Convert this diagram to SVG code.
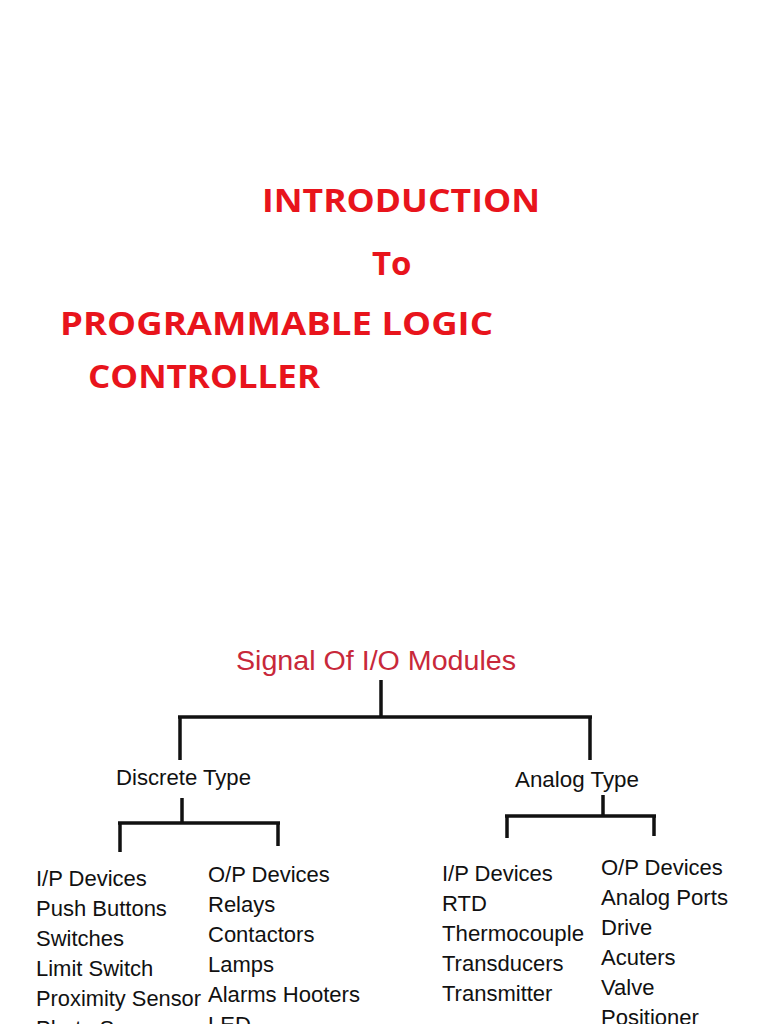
<svg xmlns="http://www.w3.org/2000/svg" width="768" height="1024" viewBox="0 0 768 1024">
<style>
.t{font-family:"Open Sans","Liberation Sans",sans-serif;font-weight:bold;font-size:33px;fill:#e8141c}
.h{font-family:"Liberation Sans",Arial,sans-serif;font-size:27px;fill:#c8283a}
.n{font-family:"Liberation Sans",Arial,sans-serif;font-size:22px;fill:#111}
.c line{stroke:#111;stroke-width:3.5}
</style>
<rect width="768" height="1024" fill="#fff"/>
<g id="title">
<text class="t" x="262" y="212" textLength="278" lengthAdjust="spacingAndGlyphs">INTRODUCTION</text>
<text class="t" x="372" y="275">To</text>
<text class="t" x="60" y="335" textLength="433" lengthAdjust="spacingAndGlyphs">PROGRAMMABLE LOGIC</text>
<text class="t" x="88" y="388" textLength="232" lengthAdjust="spacingAndGlyphs">CONTROLLER</text>
</g>
<g id="root"><text class="h" x="236" y="670" textLength="280" lengthAdjust="spacingAndGlyphs">Signal Of I/O Modules</text></g>
<g class="c" id="connectors">
<line x1="381" y1="680" x2="381" y2="718"/>
<line x1="178" y1="717" x2="592" y2="717"/>
<line x1="180" y1="717" x2="180" y2="760"/>
<line x1="590" y1="717" x2="590" y2="760"/>
<line x1="182" y1="798" x2="182" y2="823"/>
<line x1="118" y1="823" x2="280" y2="823"/>
<line x1="120" y1="823" x2="120" y2="852"/>
<line x1="278" y1="823" x2="278" y2="846"/>
<line x1="603" y1="795" x2="603" y2="816"/>
<line x1="505" y1="816" x2="656" y2="816"/>
<line x1="507" y1="816" x2="507" y2="838"/>
<line x1="654" y1="816" x2="654" y2="836"/>
</g>
<g id="discrete"><text class="n" x="116" y="785" textLength="135" lengthAdjust="spacingAndGlyphs">Discrete Type</text></g>
<g id="analog"><text class="n" x="515" y="787" textLength="124" lengthAdjust="spacingAndGlyphs">Analog Type</text></g>
<g id="discrete-ip" class="n">
<text class="n" x="36" y="886">I/P Devices</text>
<text class="n" x="36" y="916">Push Buttons</text>
<text class="n" x="36" y="946">Switches</text>
<text class="n" x="36" y="976">Limit Switch</text>
<text class="n" x="36" y="1006" textLength="165" lengthAdjust="spacingAndGlyphs">Proximity Sensor</text>
<text class="n" x="36" y="1036">Photo Sensor</text>
</g>
<g id="discrete-op">
<text class="n" x="208" y="882">O/P Devices</text>
<text class="n" x="208" y="912">Relays</text>
<text class="n" x="208" y="942">Contactors</text>
<text class="n" x="208" y="972">Lamps</text>
<text class="n" x="208" y="1002" textLength="152" lengthAdjust="spacingAndGlyphs">Alarms Hooters</text>
<text class="n" x="208" y="1032">LED</text>
</g>
<g id="analog-ip">
<text class="n" x="442" y="881">I/P Devices</text>
<text class="n" x="442" y="911">RTD</text>
<text class="n" x="442" y="941" textLength="142" lengthAdjust="spacingAndGlyphs">Thermocouple</text>
<text class="n" x="442" y="971">Transducers</text>
<text class="n" x="442" y="1001">Transmitter</text>
</g>
<g id="analog-op">
<text class="n" x="601" y="875">O/P Devices</text>
<text class="n" x="601" y="905" textLength="127" lengthAdjust="spacingAndGlyphs">Analog Ports</text>
<text class="n" x="601" y="935">Drive</text>
<text class="n" x="601" y="965">Acuters</text>
<text class="n" x="601" y="995">Valve</text>
<text class="n" x="601" y="1025">Positioner</text>
</g>
</svg>
